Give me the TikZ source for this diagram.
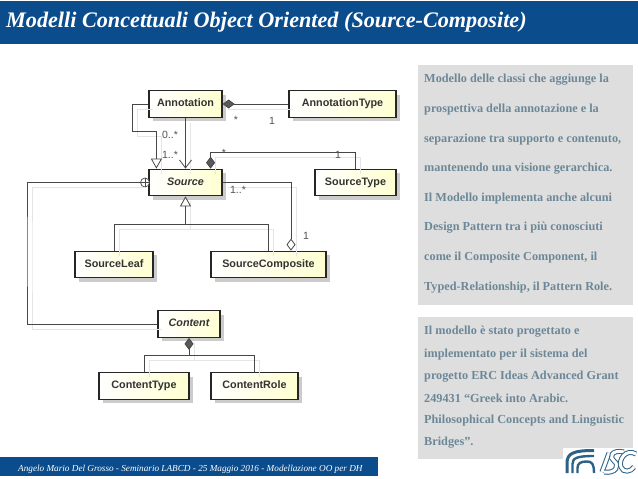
\documentclass[tikz,border=0pt]{standalone}
\usepackage{fontspec}
\setmainfont{Liberation Serif}
\setsansfont{Liberation Sans}
\usetikzlibrary{arrows.meta, positioning, calc, shadows}
\definecolor{bluslide}{RGB}{11, 76, 140}
\definecolor{grigiopannello}{RGB}{222, 222, 222}
\definecolor{testopannello}{RGB}{108, 136, 152}
\definecolor{logoblu}{RGB}{44, 98, 134}

\begin{document}
\begin{tikzpicture}[
        x=1pt, y=-1pt,
        classe/.style={
            draw=black!85,
            line width=1.2pt,
            minimum height=26.5pt,
            inner sep=0pt,
            text height=8pt,
            text depth=3pt,
            left color=white,
            right color=yellow!18,
            drop shadow={shadow xshift=4pt, shadow yshift=-4pt, fill=black!20, opacity=1},
            font=\fontsize{10.8}{12}\sffamily\bfseries,
            text=black!80
        },
        astratta/.style={
            classe,
            font=\fontsize{10.8}{12}\sffamily\bfseries\itshape
        },
        conn/.style={
            draw=black!72,
            line width=0.8pt,
            preaction={draw=black!10, arrows=-, transform canvas={xshift=5pt, yshift=-5pt}}
        },
        etichetta/.style={
            inner sep=0pt,
            font=\fontsize{10.5}{12}\sffamily,
            text=black!68
        },
        riga/.style={
            anchor=west,
            inner sep=0pt,
            font=\fontsize{12.25}{14}\bfseries,
            text=testopannello
        }
    ]
        \useasboundingbox (0,0) rectangle (638,479);

        % barre
        \fill[bluslide] (0,1) rectangle (638,44);
        \fill[bluslide] (0,457) rectangle (378,476);
        \node[anchor=west, inner sep=0pt, text=white, font=\fontsize{22.2}{26}\bfseries\itshape]
            (titolo) at (6,22) {Modelli Concettuali Object Oriented (Source-Composite)};
        \node[anchor=west, inner sep=0pt, text=white, font=\fontsize{9.2}{11}\itshape]
            (piede) at (18,469) {Angelo Mario Del Grosso - Seminario LABCD - 25 Maggio 2016 - Modellazione OO per DH};

        % pannelli
        \fill[grigiopannello] (418,65) rectangle (633,305);
        \fill[grigiopannello] (418,317) rectangle (633,459);
        \foreach \testo [count=\n] in {
            Modello delle classi che aggiunge la,
            prospettiva della annotazione e la,
            {separazione tra supporto e contenuto,},
            mantenendo una visione gerarchica.,
            Il Modello implementa anche alcuni,
            Design Pattern tra i più conosciuti,
            {come il Composite Component, il},
            {Typed-Relationship, il Pattern Role.}
        } {
            \node[riga] (primo\n) at (424,{80+29.6*(\n-1)}) {\testo};
        }
        \foreach \testo [count=\n] in {
            Il modello è stato progettato e,
            implementato per il sistema del,
            progetto ERC Ideas Advanced Grant,
            249431 “Greek into Arabic.,
            Philosophical Concepts and Linguistic,
            Bridges”.
        } {
            \node[riga] (secondo\n) at (424,{332+22.2*(\n-1)}) {\testo};
        }

        % logo
        \fill[white] (563,448) rectangle (638,479);
        \begin{scope}[draw=logoblu]
            \draw[line width=3pt] (567,473) -- (567,463) .. controls (567,453) and (574,450.5) .. (594,450.5);
            \draw[line width=2.4pt] (572.5,473) -- (572.5,464) .. controls (572.5,458) and (577,456) .. (594,456);
            \draw[line width=2.4pt] (577.5,473) -- (577.5,468) .. controls (577.5,463) and (581,461.5) .. (587,461.5)
                .. controls (592,461.5) and (594,464) .. (594,473);
            \draw[line width=1pt, double=white, double distance=3pt] (602,472) -- (609,453);
            \draw[line width=1pt, double=white, double distance=3pt]
                (624,452) .. controls (611,449) and (609,458) .. (614,461)
                .. controls (620,465) and (616,474) .. (604,472);
            \draw[line width=1pt, double=white, double distance=3pt]
                (636,454) .. controls (626,448) and (618,460) .. (621,467)
                .. controls (623,473) and (631,472) .. (634,467);
        \end{scope}

        % classi
        \foreach \nome/\cx/\cy/\largo/\testo in {
            annotation/185.5/104/73/Annotation,
            annotationtype/342.5/104/107/AnnotationType,
            sourcetype/355.5/182.5/81/SourceType,
            sourceleaf/114/264.5/78/SourceLeaf,
            sourcecomposite/268.5/264.5/115/SourceComposite,
            contenttype/144/386/90/ContentType,
            contentrole/254.5/386/87/ContentRole
        } {
            \node[classe, minimum width=\largo pt] (\nome) at (\cx,\cy) {\testo};
        }
        \node[astratta, minimum width=73pt] (source) at (185.5,182.5) {Source};
        \node[astratta, minimum width=62pt] (content) at (189,324) {Content};

        % punti di snodo
        \coordinate (gomito) at (132,131);
        \coordinate (cima) at (0,152);
        \coordinate (attacco) at ([xshift=-12]source.north east);
        \coordinate (ramo) at (185.5,224);
        \coordinate (bivio) at (189,355);
        \coordinate (sinistra) at (27,250);

        % relazioni
        \draw[conn, -{Triangle[length=10pt, width=11pt, fill=white]}] (annotation.west) -| (gomito)
            -| ([xshift=8]source.north west);
        \draw[conn, -{Straight Barb[length=8pt, width=12pt]}] (annotation) -- (source);
        \draw[conn, -{Diamond[length=12pt, width=9pt, fill=black!65]}] (annotationtype) -- (annotation);
        \draw[conn, -{Diamond[length=12pt, width=9pt, fill=black!65]}] (sourcetype.north)
            |- (cima -| attacco) -- (attacco);
        \draw[conn, -{Diamond[length=12pt, width=9pt, fill=white]}] (source.east)
            -| ([xshift=22.5]sourcecomposite.north);
        \draw[conn, -{Triangle[length=10pt, width=11pt, fill=white]}] (ramo) -- (source);
        \draw[conn] (sourceleaf.north) |- (ramo);
        \draw[conn] (sourcecomposite.north) |- (ramo);
        \node[draw=black!72, line width=0.7pt, circle, minimum size=9pt, inner sep=0pt, fill=white]
            (annidato) at (145,182.5) {};
        \draw[draw=black!72, line width=0.7pt] (annidato.north) -- (annidato.south);
        \draw[draw=black!72, line width=0.7pt] (annidato.west) -- (annidato.east);
        \draw[conn] (content.west) -| (sinistra) |- (annidato.west);
        \draw[conn, -{Diamond[length=12pt, width=9pt, fill=black!65]}] (bivio) -- (content);
        \draw[conn] (contenttype.north) |- (bivio);
        \draw[conn] (contentrole.north) |- (bivio);

        % molteplicita
        \foreach \nome/\cx/\cy/\testo in {
            m1/236/120/*,
            m2/272/121/1,
            m3/170/135/0..*,
            m4/170/155/1..*,
            m5/224/153/*,
            m6/338/155/1,
            m7/238/190/1..*,
            m8/306/236/1
        } {
            \node[etichetta] (\nome) at (\cx,\cy) {\testo};
        }
    \end{tikzpicture}
\end{document}
